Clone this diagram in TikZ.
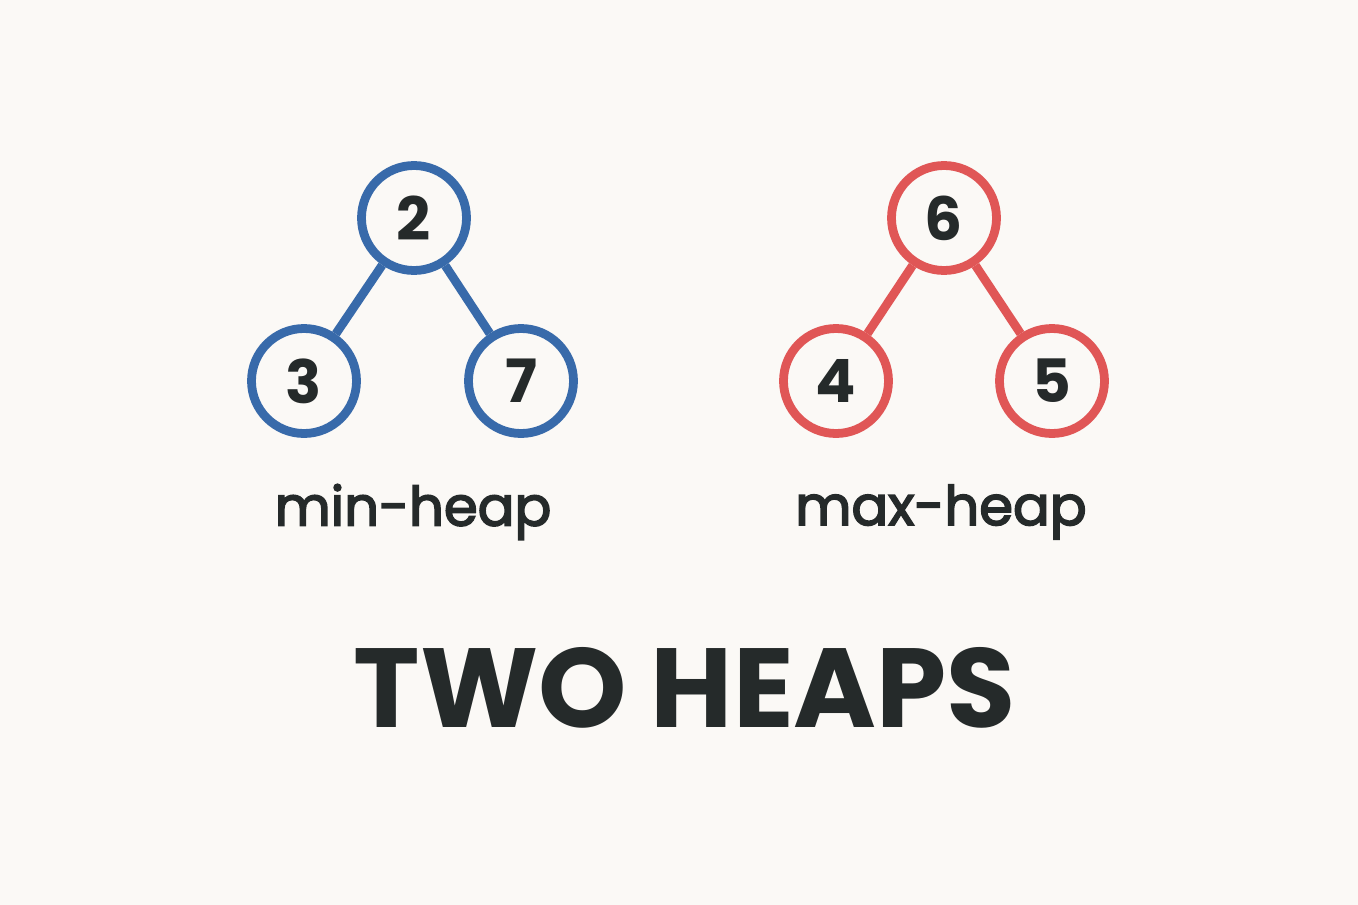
\documentclass[tikz,border=0pt]{standalone}
\usepackage{fontspec}
\setmainfont{Poppins}
\usepackage{tikz}
\usetikzlibrary{positioning}
\usepackage{xcolor}
\definecolor{hpbg}{RGB}{251,249,246}
\definecolor{hpblue}{RGB}{56,106,170}
\definecolor{hpred}{RGB}{224,86,86}
\definecolor{hptext}{RGB}{37,42,42}
\tikzstyle{heapnode} = [circle, minimum size=2.1cm, line width=5pt, fill=hpbg, text=hptext, font=\fontsize{34}{34}\selectfont\bfseries, inner sep=0pt]
\tikzstyle{minnode} = [heapnode, draw=hpblue]
\tikzstyle{maxnode} = [heapnode, draw=hpred]
\tikzstyle{label} = [text=hptext, font=\fontsize{31}{31}\selectfont\addfontfeatures{FakeBold=3}]

\begin{document}
\begin{tikzpicture}[x=1cm, y=1cm]
\fill[hpbg] (0,0) rectangle (27.16,-18.1);
\useasboundingbox (0,0) rectangle (27.16,-18.1);
% min-heap
\node (two) [minnode] at (8.28,-4.36) {2};
\node (three) [minnode] at (6.08,-7.62) {3};
\node (seven) [minnode] at (10.42,-7.62) {7};
\draw[hpblue, line width=5pt] (two) -- (three);
\draw[hpblue, line width=5pt] (two) -- (seven);
\node (minlabel) [label] at (8.26,-10.24) {min-heap};
% max-heap
\node (six) [maxnode] at (18.88,-4.36) {6};
\node (four) [maxnode] at (16.72,-7.62) {4};
\node (five) [maxnode] at (21.04,-7.62) {5};
\draw[hpred, line width=5pt] (six) -- (four);
\draw[hpred, line width=5pt] (six) -- (five);
\node (maxlabel) [label] at (18.82,-10.24) {max-heap};
% title
\node (title) [text=hptext, font=\fontsize{64}{64}\selectfont\bfseries] at (13.7,-13.75) {TWO HEAPS};
\end{tikzpicture}
\end{document}
